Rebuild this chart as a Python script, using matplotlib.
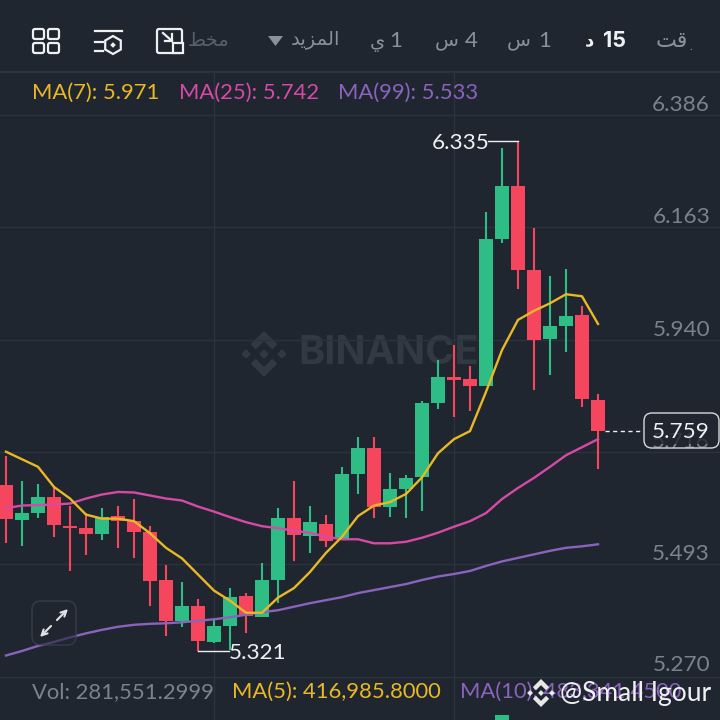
import matplotlib
matplotlib.use('Agg')
import matplotlib.pyplot as plt
from matplotlib.patches import FancyBboxPatch, Polygon, Rectangle, RegularPolygon

# candle values, oldest first
opens = [5.651, 5.581, 5.595, 5.628, 5.570, 5.565, 5.554, 5.589, 5.579, 5.557,
         5.462, 5.381, 5.410, 5.339, 5.370, 5.430, 5.388, 5.463, 5.585, 5.550,
         5.574, 5.543, 5.673, 5.724, 5.608, 5.643, 5.666, 5.814, 5.865, 5.861,
         5.848, 6.139, 6.245, 6.078, 5.941, 5.966, 5.988, 5.820]
closes = [5.583, 5.596, 5.628, 5.572, 5.566, 5.554, 5.588, 5.579, 5.557, 5.461,
          5.381, 5.410, 5.340, 5.370, 5.429, 5.390, 5.462, 5.585, 5.551, 5.577,
          5.540, 5.673, 5.724, 5.608, 5.643, 5.665, 5.813, 5.865, 5.860, 5.848,
          6.139, 6.245, 6.079, 5.940, 5.966, 5.987, 5.821, 5.759]
highs = [5.708, 5.659, 5.653, 5.647, 5.609, 5.596, 5.605, 5.609, 5.623, 5.569,
         5.491, 5.459, 5.424, 5.382, 5.446, 5.436, 5.496, 5.605, 5.658, 5.609,
         5.591, 5.687, 5.746, 5.746, 5.674, 5.671, 5.818, 5.899, 5.930, 5.887,
         6.194, 6.321, 6.335, 6.162, 6.066, 6.080, 6.007, 5.831]
lows = [5.536, 5.530, 5.586, 5.548, 5.479, 5.512, 5.541, 5.526, 5.506, 5.411,
        5.351, 5.369, 5.321, 5.337, 5.323, 5.356, 5.388, 5.417, 5.500, 5.515,
        5.527, 5.542, 5.632, 5.586, 5.588, 5.585, 5.600, 5.802, 5.787, 5.797,
        5.848, 6.132, 6.040, 5.840, 5.870, 5.915, 5.806, 5.683]

ma7 = [5.717, 5.702, 5.687, 5.647, 5.624, 5.592, 5.584, 5.584, 5.579, 5.555,
       5.526, 5.505, 5.473, 5.441, 5.421, 5.397, 5.397, 5.427, 5.446, 5.478,
       5.516, 5.548, 5.589, 5.610, 5.617, 5.633, 5.666, 5.714, 5.742, 5.758,
       5.836, 5.919, 5.979, 5.997, 6.012, 6.030, 6.026, 5.971]
ma25 = [5.605, 5.610, 5.611, 5.612, 5.614, 5.624, 5.632, 5.637, 5.636, 5.630,
        5.624, 5.620, 5.608, 5.598, 5.587, 5.577, 5.569, 5.565, 5.560, 5.556,
        5.548, 5.543, 5.543, 5.535, 5.535, 5.538, 5.546, 5.556, 5.568, 5.579,
        5.595, 5.623, 5.645, 5.665, 5.687, 5.710, 5.726, 5.742]
ma99 = [5.312, 5.321, 5.331, 5.339, 5.348, 5.356, 5.363, 5.369, 5.373, 5.375,
        5.376, 5.378, 5.381, 5.384, 5.388, 5.393, 5.398, 5.402, 5.409, 5.416,
        5.422, 5.428, 5.436, 5.442, 5.448, 5.454, 5.462, 5.469, 5.474, 5.480,
        5.490, 5.499, 5.506, 5.513, 5.520, 5.526, 5.529, 5.533]

price_ticks = [6.386, 6.163, 5.940, 5.716, 5.493, 5.270]
tick_labels = ['6.386', '6.163', '5.940', '5.716', '5.493', '5.270']

# only the top of one volume bar shows at the bottom edge
vol_index = [31]
vol_top = [0.010]

BG = '#1f2630'
GRID = '#2d333e'
GREEN = '#2ebd85'
RED = '#f6465d'
YELLOW = '#e9b824'
PINK = '#d64aa6'
PURPLE = '#8a63bd'
GRAY = '#7b828d'
WHITE = '#eef0f2'
FONT = ['Lato', 'DejaVu Sans']

fig = plt.figure(figsize=(7.2, 7.2), dpi=100, facecolor=BG)

# pixel axes behind the chart: grid and watermark
back = fig.add_axes([0, 0, 1, 1], zorder=0)
back.set_xlim(0, 720)
back.set_ylim(720, 0)
back.axis('off')

# chart axes, x is candle number and y is price
ax = fig.add_axes([0, 0, 1, 1], zorder=1)
ax.set_xlim(-0.375, 44.625)
ax.set_ylim(5.1838, 6.6148)
ax.axis('off')
ax.patch.set_alpha(0)

# pixel axes in front: header, labels, icons
top = fig.add_axes([0, 0, 1, 1], zorder=2)
top.set_xlim(0, 720)
top.set_ylim(720, 0)
top.axis('off')
top.patch.set_alpha(0)


def binance_logo(a, cx, cy, r, color, z=1):
    chevron = [(0, 1), (0.58, 0.42), (0.36, 0.2), (0, 0.56), (-0.36, 0.2), (-0.58, 0.42)]
    for sign in (1, -1):
        pts = [(cx + r * px, cy + sign * r * py) for px, py in chevron]
        a.add_patch(Polygon(pts, color=color, lw=0, zorder=z))
    for dx in (-0.78, 0, 0.78):
        a.add_patch(RegularPolygon((cx + dx * r, cy), 4, radius=0.21 * r,
                                   color=color, lw=0, zorder=z))


# grid lines
for p in price_ticks:
    ax.axhline(p, color=GRID, lw=1, zorder=0)
for x in (214, 454):
    back.plot([x, x], [72, 720], color=GRID, lw=1)
back.plot([0, 720], [72, 72], color=GRID, lw=1.5)

# watermark
binance_logo(back, 264, 354, 23, '#333943')
back.text(298, 354, 'BINANCE', color='#333943', fontsize=28.5, fontweight='bold',
          family=['Inter', 'DejaVu Sans'], va='center', ha='left')

# candles
for i in range(len(opens)):
    color = GREEN if closes[i] >= opens[i] else RED
    ax.vlines(i, lows[i], highs[i], color=color, lw=1.5, zorder=2)
    ax.bar(i, abs(closes[i] - opens[i]), bottom=min(opens[i], closes[i]),
           width=0.875, color=color, lw=0, zorder=3)
ax.bar(vol_index, vol_top, bottom=5.1838, width=0.875, color=GREEN, lw=0, zorder=3)

# moving averages
xs = list(range(len(ma7)))
ax.plot(xs, ma99, color=PURPLE, lw=1.7, zorder=4)
ax.plot(xs, ma25, color=PINK, lw=1.7, zorder=4)
ax.plot(xs, ma7, color=YELLOW, lw=1.7, zorder=4)

# price labels sit a little above their grid lines
for label, y in zip(tick_labels, [105, 217, 330, 442, 554, 665]):
    top.text(710, y, label, color=GRAY, fontsize=16.2, family=FONT, ha='right', va='center')

# high and low markers
top.plot([488, 518], [141, 141], color=WHITE, lw=1)
top.text(432, 143, '6.335', color=WHITE, fontsize=16.2, family=FONT, va='center')
top.plot([198, 229], [651, 651], color=WHITE, lw=1)
top.text(229, 653, '5.321', color=WHITE, fontsize=16.2, family=FONT, va='center')

# last price box
top.plot([605, 642], [430.5, 430.5], color=WHITE, lw=1, ls=(0, (3, 2.5)))
top.add_patch(FancyBboxPatch((648, 417), 66, 27, boxstyle='round,pad=0,rounding_size=8',
                             fc=BG, ec='none', alpha=0.8, zorder=3))
top.add_patch(FancyBboxPatch((644, 413), 75, 35, boxstyle='round,pad=0,rounding_size=8',
                             fc='none', ec='#d8dadd', lw=1, zorder=4))
top.text(710, 432.5, '5.759', color=WHITE, fontsize=16.2, family=FONT, ha='right',
         va='center', zorder=5)

# legend rows
top.text(32, 93, 'MA(7): 5.971', color=YELLOW, fontsize=15.8, family=FONT, va='center')
top.text(179, 93, 'MA(25): 5.742', color=PINK, fontsize=15.8, family=FONT, va='center')
top.text(338, 93, 'MA(99): 5.533', color=PURPLE, fontsize=15.8, family=FONT, va='center')
top.text(32, 692, 'Vol: 281,551.2999', color=GRAY, fontsize=15.8, family=FONT, va='center')
top.text(232, 692, 'MA(5): 416,985.8000', color=YELLOW, fontsize=15.8, family=FONT, va='center')
top.text(460, 692, 'MA(10): 483,341.4500', color=PURPLE, fontsize=15.8, family=FONT, va='center')

# header, Arabic written in shaped forms and visual order
head = '#8b919a'
top.text(688, 41, '\ufe96\ufed7', color=head, fontsize=16, family=FONT, ha='right', va='center')
top.text(692, 46, '.', color=head, fontsize=8, family=FONT, ha='right', va='center')
top.text(626, 41, '15', color=WHITE, fontsize=15.5, fontweight='bold', family=['Inter', 'DejaVu Sans'],
         ha='right', va='center')
top.text(594, 40, '\u062f', color=WHITE, fontsize=13, fontweight='bold', family=FONT,
         ha='right', va='center')
top.text(551, 41, '1', color=head, fontsize=16, family=FONT, ha='right', va='center')
top.text(531, 41, '\u0633', color=head, fontsize=14, family=FONT, ha='right', va='center')
top.text(478, 41, '4', color=head, fontsize=16, family=FONT, ha='right', va='center')
top.text(459, 41, '\u0633', color=head, fontsize=14, family=FONT, ha='right', va='center')
top.text(402, 41, '1', color=head, fontsize=16, family=FONT, ha='right', va='center')
top.text(385, 43, '\u064a', color=head, fontsize=14, family=FONT, ha='right', va='center')
top.text(340, 40, '\ufeaa\ufef3\ufeb0\ufee4\ufedf\ufe8d', color=head, fontsize=14,
         family=FONT, ha='right', va='center')
top.add_patch(Polygon([(268, 36), (283, 36), (275.5, 46)], color=head, lw=0))
top.text(229, 40, '\ufec2\ufea8\ufee3', color='#5a606a', fontsize=14, family=FONT,
         ha='right', va='center')

# grid icon
for x in (33, 48):
    for y in (29, 43):
        top.add_patch(FancyBboxPatch((x, y), 11, 10, boxstyle='round,pad=0,rounding_size=2',
                                     fc='none', ec=WHITE, lw=1.6))

# indicator icon
top.plot([95, 122], [31, 31], color=WHITE, lw=1.6)
top.plot([95, 103], [42, 42], color=WHITE, lw=1.6)
top.plot([95, 103], [51, 51], color=WHITE, lw=1.6)
top.add_patch(RegularPolygon((113, 45), 6, radius=9, fc='none', ec=WHITE, lw=1.6))
top.add_patch(RegularPolygon((113, 45), 4, radius=2.8, color=WHITE, lw=0))

# chart type icon
top.add_patch(FancyBboxPatch((157, 29), 25, 24, boxstyle='round,pad=0,rounding_size=2',
                             fc='none', ec=WHITE, lw=1.6))
top.add_patch(Rectangle((173, 43), 10, 10, fc=BG, ec=WHITE, lw=1.6))
top.plot([163, 172], [33, 41], color=WHITE, lw=1.6)
top.plot([165, 172, 172], [41, 41, 34], color=WHITE, lw=1.6)

# expand button
top.add_patch(FancyBboxPatch((32, 601), 44, 44, boxstyle='round,pad=0,rounding_size=9',
                             fc=BG, ec='#41464f', lw=1.2, alpha=0.6))
for a, b in (((54, 623), (68, 609)), ((54, 623), (40, 637))):
    top.annotate('', xy=b, xytext=a,
                 arrowprops=dict(arrowstyle='->', color='#dfe2e6', lw=1.5, shrinkA=3, shrinkB=0))

# user watermark
binance_logo(top, 541, 693, 14, '#e8e8e8', z=6)
top.text(560, 694, '@Small Igour', color='#f0f0f0', fontsize=19, family=FONT, va='center', zorder=6)

fig.savefig('out.png', dpi=100, facecolor=BG)
